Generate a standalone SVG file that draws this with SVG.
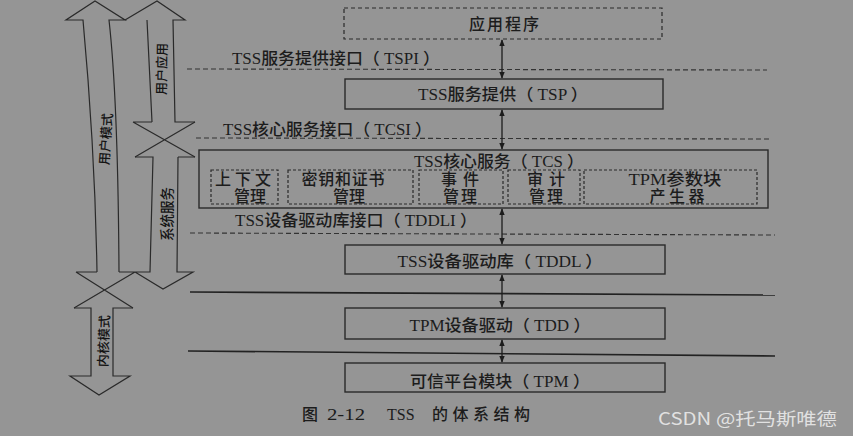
<svg xmlns="http://www.w3.org/2000/svg" width="853" height="436" viewBox="0 0 853 436">
<style>
.t{font-family:"Liberation Serif","Noto Sans CJK SC",serif;font-size:16px;fill:#1c1c1c;font-weight:500;dominant-baseline:central;text-anchor:middle}
.ta{font-family:"Liberation Serif","Noto Sans CJK SC",serif;font-size:16px;fill:#1c1c1c;font-weight:500;dominant-baseline:central}
.v{font-family:"Noto Sans CJK SC",sans-serif;font-size:13px;fill:#141414;font-weight:500;dominant-baseline:central;text-anchor:middle}
.box{fill:none;stroke:#2a2a2a;stroke-width:1.4}
.dbox{fill:none;stroke:#2a2a2a;stroke-width:1.2;stroke-dasharray:4 3}
.sub{fill:none;stroke:#2a2a2a;stroke-width:1.2;stroke-dasharray:3 2}
.dl{fill:none;stroke:#333;stroke-width:1.1;stroke-dasharray:5 3}
.sl{fill:none;stroke:#222;stroke-width:1.6}
.big{fill:none;stroke:#2a2a2a;stroke-width:1.2;stroke-linejoin:miter}
.c{fill:none;stroke:#1c1c1c;stroke-width:1.3;marker-start:url(#ah);marker-end:url(#ah)}
</style>
<defs>
<marker id="ah" viewBox="0 0 10 10" refX="9" refY="5" markerWidth="7" markerHeight="7" markerUnits="userSpaceOnUse" orient="auto-start-reverse">
<path d="M0,1 L10,5 L0,9 Z" fill="#1c1c1c"/>
</marker>
</defs>
<rect x="0" y="0" width="853" height="436" fill="#959595"/>

<g id="left-arrows">
<path class="big" d="M97,272 Q95,150 83,20 L66,20 L95,1 L125,20 L109,20 Q118,100 119,272"/>
<path class="big" d="M125,20 L157,1 L185,20 L173,20 L175,122 L195,122 M152,122 L147,20"/>
<path class="big" d="M133,122 L152,122 M133,122 L195,157 M195,122 L135,157"/>
<path class="big" d="M135,157 L153,157 L150,272 L135,272 M178,157 L195,157 M178,157 L177,272 L193,272 L163,289 L135,272"/>
<path class="big" d="M76,272 L97,272 M119,272 L135,272 M76,272 L133,308 M135,272 L74,308"/>
<path class="big" d="M74,308 L91,308 L91,376 L70,376 L99,395 L130,376 L113,376 L113,308 L133,308"/>
<text class="v" transform="translate(105,139) rotate(-86)">用户模式</text>
<text class="v" transform="translate(161,69) rotate(-89)">用户应用</text>
<text class="v" transform="translate(166,214) rotate(-90)" style="font-size:13.5px">系统服务</text>
<text class="v" transform="translate(103,341) rotate(-88)">内核模式</text>
</g>

<g id="layers">
<path class="dl" d="M187,69 L767,70"/>
<text class="ta" x="232" y="58" textLength="208" lengthAdjust="spacingAndGlyphs">TSS服务提供接口（ TSPI ）</text>
<path class="dl" d="M196,138 L772,139"/>
<text class="ta" x="223" y="129" textLength="209" lengthAdjust="spacingAndGlyphs">TSS核心服务接口（ TCSI ）</text>
<path class="dl" d="M190,233 L775,235"/>
<text class="ta" x="235" y="220" textLength="242" lengthAdjust="spacingAndGlyphs">TSS设备驱动库接口（ TDDLI ）</text>
<path class="sl" d="M190,292 L775,295"/>
<path class="sl" d="M188,351 L775,356"/>
</g>

<g id="app">
<rect class="dbox" x="344" y="8" width="318" height="31"/>
<text class="t" x="504" y="24" textLength="70" lengthAdjust="spacing">应用程序</text>
</g>
<g id="tsp">
<rect class="box" x="345" y="79" width="318" height="30"/>
<text class="t" x="503" y="94" textLength="170" lengthAdjust="spacingAndGlyphs">TSS服务提供（ TSP ）</text>
</g>
<g id="tcs">
<rect class="box" x="199" y="150" width="569" height="58"/>
<text class="t" x="499" y="161" textLength="170" lengthAdjust="spacingAndGlyphs">TSS核心服务（ TCS ）</text>
<rect class="sub" x="211" y="170" width="67" height="34"/>
<text class="t" x="243" y="179" textLength="56" lengthAdjust="spacing">上下文</text>
<text class="t" x="250" y="196">管理</text>
<rect class="sub" x="288" y="170" width="125" height="34"/>
<text class="t" x="343" y="179" textLength="83" lengthAdjust="spacing">密钥和证书</text>
<text class="t" x="349" y="196">管理</text>
<rect class="sub" x="419" y="170" width="84" height="34"/>
<text class="t" x="460" y="179" textLength="38" lengthAdjust="spacing">事件</text>
<text class="t" x="460" y="196" textLength="34" lengthAdjust="spacing">管理</text>
<rect class="sub" x="508" y="170" width="72" height="34"/>
<text class="t" x="546" y="179" textLength="38" lengthAdjust="spacing">审计</text>
<text class="t" x="546" y="196" textLength="34" lengthAdjust="spacing">管理</text>
<rect class="sub" x="584" y="170" width="173" height="34"/>
<text class="t" x="675" y="179" textLength="93" lengthAdjust="spacingAndGlyphs">TPM参数块</text>
<text class="t" x="677" y="196" textLength="55" lengthAdjust="spacing">产生器</text>
</g>
<g id="tddl">
<rect class="box" x="345" y="245" width="320" height="29"/>
<text class="t" x="500" y="261" textLength="205" lengthAdjust="spacingAndGlyphs">TSS设备驱动库（ TDDL ）</text>
</g>
<g id="tdd">
<rect class="box" x="345" y="308" width="320" height="31"/>
<text class="t" x="500" y="325" textLength="181" lengthAdjust="spacingAndGlyphs">TPM设备驱动（ TDD ）</text>
</g>
<g id="tpm">
<rect class="box" x="345" y="363" width="320" height="29"/>
<text class="t" x="500" y="381" textLength="180" lengthAdjust="spacingAndGlyphs">可信平台模块（ TPM ）</text>
</g>

<g id="connectors">
<path class="c" d="M502,40 L502,78"/>
<path class="c" d="M502,110 L502,149"/>
<path class="c" d="M502,209 L502,244"/>
<path class="c" d="M502,275 L502,307"/>
<path class="c" d="M502,340 L502,362"/>
</g>

<g id="caption">
<text class="ta" x="302" y="414">图</text>
<text class="ta" x="327" y="414" textLength="38" lengthAdjust="spacingAndGlyphs">2-12</text>
<text class="ta" x="387" y="414">TSS</text>
<text class="ta" x="432" y="414" textLength="98" lengthAdjust="spacing">的体系结构</text>
</g>
<text x="658" y="417" font-family="Noto Sans CJK SC, sans-serif" font-size="17" fill="#f0f0f0" fill-opacity="0.85" dominant-baseline="central" textLength="179" lengthAdjust="spacingAndGlyphs">CSDN @托马斯唯德</text>
</svg>
